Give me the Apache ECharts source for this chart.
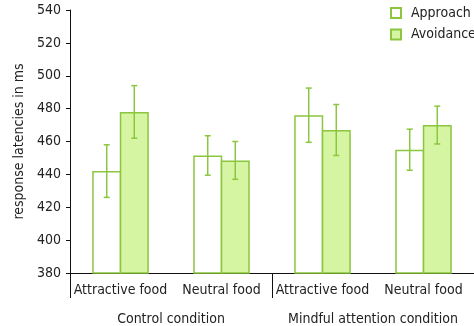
<!DOCTYPE html>
<html>
<head>
<meta charset="utf-8">
<script src="https://cdn.jsdelivr.net/npm/echarts@6/dist/echarts.min.js"></script>
<style>
  html, body { margin: 0; padding: 0; background: #fff; }
  #chart { width: 474px; height: 326px; }
</style>
</head>
<body>
<div id="chart"></div>
<script>
// Food categories within each condition
const categories = ['Attractive food', 'Neutral food', 'Attractive food', 'Neutral food'];
const conditions = ['Control condition', 'Mindful attention condition'];

// Mean response latencies (ms) and error-bar half widths
const approachMeans = [442, 451.5, 476, 455];
const approachErr = [16, 12, 16.5, 12.5];
const avoidanceMeans = [478, 448.5, 467, 470];
const avoidanceErr = [16, 11.5, 15.5, 11.5];

const yTicks = { min: 380, max: 540, step: 20 };

const FONT = '"DejaVu Sans Condensed", "Liberation Sans Narrow", sans-serif';
const FS = 14;
const STROKE = '#8cc63e';
const FILL = '#d6f5a2';
const BAR_W = 29;
const GAP_PCT = -5;                       // neighbouring bars share one border
const OVERLAP = -BAR_W * GAP_PCT / 100;   // px of overlap between the pair
const HALF_STEP = (BAR_W - OVERLAP) / 2;  // offset from category centre to each bar centre

function errorSeries(name, means, errs, shift) {
  return {
    type: 'custom',
    name: name + ' error',
    xAxisIndex: 0,
    z: 5,
    silent: true,
    data: means.map((m, i) => [i, m - errs[i], m + errs[i]]),
    renderItem: function (params, api) {
      const lo = api.coord([api.value(0), api.value(1)]);
      const hi = api.coord([api.value(0), api.value(2)]);
      const x = lo[0] + shift;
      const cap = 3;
      const style = { stroke: STROKE, lineWidth: 1.5, fill: null };
      return {
        type: 'group',
        children: [
          { type: 'line', shape: { x1: x, y1: lo[1], x2: x, y2: hi[1] }, style: style },
          { type: 'line', shape: { x1: x - cap, y1: lo[1], x2: x + cap, y2: lo[1] }, style: style },
          { type: 'line', shape: { x1: x - cap, y1: hi[1], x2: x + cap, y2: hi[1] }, style: style }
        ]
      };
    }
  };
}

const chart = echarts.init(document.getElementById('chart'), null, { renderer: 'canvas' });
chart.setOption({
  animation: false,
  backgroundColor: '#fff',
  textStyle: { fontFamily: FONT },
  grid: { left: 70, right: 0, top: 10, bottom: 53, containLabel: false },
  legend: {
    data: ['Approach', 'Avoidance'],
    orient: 'vertical',
    left: 390,
    top: 6,
    padding: 0,
    icon: 'rect',
    itemWidth: 10,
    itemHeight: 10,
    itemGap: 7.5,
    textStyle: { fontFamily: FONT, fontSize: FS, lineHeight: 14, color: '#222', padding: [0, 0, 0, 5] }
  },
  xAxis: [
    {
      type: 'category',
      data: categories,
      position: 'bottom',
      axisLine: { lineStyle: { color: '#111', width: 1 } },
      axisTick: { show: false },
      axisLabel: { color: '#222', fontSize: FS, fontFamily: FONT, margin: 10, interval: 0 }
    },
    {
      type: 'category',
      data: conditions,
      position: 'bottom',
      axisLine: { show: false },
      axisTick: { show: true, length: 25, lineStyle: { color: '#111', width: 1 } },
      axisLabel: { color: '#222', fontSize: FS, fontFamily: FONT, margin: 39, interval: 0 }
    }
  ],
  yAxis: {
    type: 'value',
    min: yTicks.min,
    max: yTicks.max,
    interval: yTicks.step,
    name: 'response latencies in ms',
    nameLocation: 'middle',
    nameGap: 36,
    nameTextStyle: { color: '#222', fontSize: FS, fontFamily: FONT },
    axisLine: { show: true, lineStyle: { color: '#111', width: 1 } },
    axisTick: { show: true, length: 4, lineStyle: { color: '#111' } },
    axisLabel: { color: '#222', fontSize: FS, fontFamily: FONT, margin: 9 },
    splitLine: { show: false }
  },
  series: [
    {
      name: 'Approach',
      type: 'bar',
      xAxisIndex: 0,
      data: approachMeans,
      barWidth: BAR_W,
      barGap: GAP_PCT + '%',
      itemStyle: { color: '#ffffff', borderColor: STROKE, borderWidth: 1.5 }
    },
    {
      name: 'Avoidance',
      type: 'bar',
      xAxisIndex: 0,
      data: avoidanceMeans,
      barWidth: BAR_W,
      barGap: GAP_PCT + '%',
      itemStyle: { color: FILL, borderColor: STROKE, borderWidth: 1.5 }
    },
    errorSeries('Approach', approachMeans, approachErr, -HALF_STEP),
    errorSeries('Avoidance', avoidanceMeans, avoidanceErr, HALF_STEP)
  ]
});
</script>
</body>
</html>
